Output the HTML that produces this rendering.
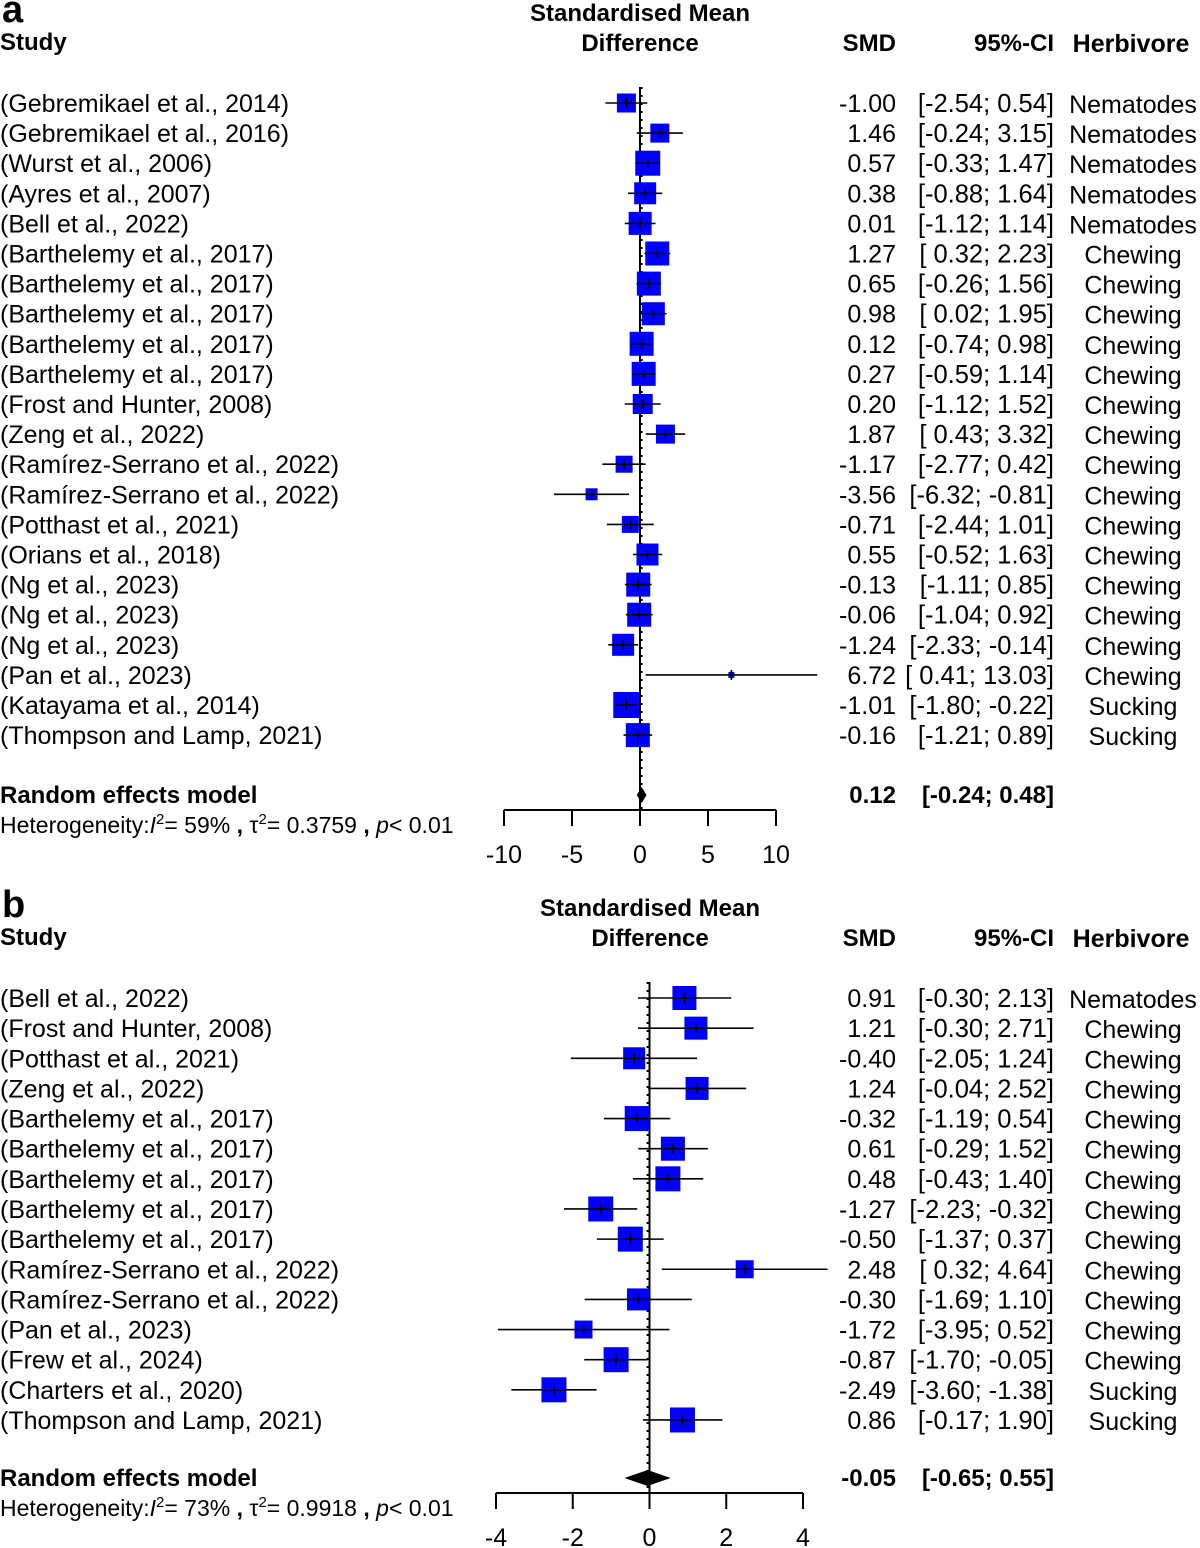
<!DOCTYPE html>
<html><head><meta charset="utf-8">
<style>
html,body{margin:0;padding:0;background:#fff;}
svg{display:block;font-family:"Liberation Sans",Arial,sans-serif;}
</style></head>
<body>
<svg id="chart" width="1200" height="1548" viewBox="0 0 1200 1548" xmlns="http://www.w3.org/2000/svg"></svg>
<script>
// ---- Panel a data ----
const aStudies = ["(Gebremikael et al., 2014)","(Gebremikael et al., 2016)","(Wurst et al., 2006)","(Ayres et al., 2007)","(Bell et al., 2022)","(Barthelemy et al., 2017)","(Barthelemy et al., 2017)","(Barthelemy et al., 2017)","(Barthelemy et al., 2017)","(Barthelemy et al., 2017)","(Frost and Hunter, 2008)","(Zeng et al., 2022)","(Ramírez-Serrano et al., 2022)","(Ramírez-Serrano et al., 2022)","(Potthast et al., 2021)","(Orians et al., 2018)","(Ng et al., 2023)","(Ng et al., 2023)","(Ng et al., 2023)","(Pan et al., 2023)","(Katayama et al., 2014)","(Thompson and Lamp, 2021)"];
const aSMD = [-1.00,1.46,0.57,0.38,0.01,1.27,0.65,0.98,0.12,0.27,0.20,1.87,-1.17,-3.56,-0.71,0.55,-0.13,-0.06,-1.24,6.72,-1.01,-0.16];
const aLo = [-2.54,-0.24,-0.33,-0.88,-1.12,0.32,-0.26,0.02,-0.74,-0.59,-1.12,0.43,-2.77,-6.32,-2.44,-0.52,-1.11,-1.04,-2.33,0.41,-1.80,-1.21];
const aHi = [0.54,3.15,1.47,1.64,1.14,2.23,1.56,1.95,0.98,1.14,1.52,3.32,0.42,-0.81,1.01,1.63,0.85,0.92,-0.14,13.03,-0.22,0.89];
const aWeight = [19,19,25,22,23,24,24,23,24,24,20,19,17,12,17,22,24,24,22,6,26,24];
const aHerb = ["Nematodes","Nematodes","Nematodes","Nematodes","Nematodes","Chewing","Chewing","Chewing","Chewing","Chewing","Chewing","Chewing","Chewing","Chewing","Chewing","Chewing","Chewing","Chewing","Chewing","Chewing","Sucking","Sucking"];
const aPooled = [0.12,-0.24,0.48];
const aTicks = [-10,-5,0,5,10];
// ---- Panel b data ----
const bStudies = ["(Bell et al., 2022)","(Frost and Hunter, 2008)","(Potthast et al., 2021)","(Zeng et al., 2022)","(Barthelemy et al., 2017)","(Barthelemy et al., 2017)","(Barthelemy et al., 2017)","(Barthelemy et al., 2017)","(Barthelemy et al., 2017)","(Ramírez-Serrano et al., 2022)","(Ramírez-Serrano et al., 2022)","(Pan et al., 2023)","(Frew et al., 2024)","(Charters et al., 2020)","(Thompson and Lamp, 2021)"];
const bSMD = [0.91,1.21,-0.40,1.24,-0.32,0.61,0.48,-1.27,-0.50,2.48,-0.30,-1.72,-0.87,-2.49,0.86];
const bLo = [-0.30,-0.30,-2.05,-0.04,-1.19,-0.29,-0.43,-2.23,-1.37,0.32,-1.69,-3.95,-1.70,-3.60,-0.17];
const bHi = [2.13,2.71,1.24,2.52,0.54,1.52,1.40,-0.32,0.37,4.64,1.10,0.52,-0.05,-1.38,1.90];
const bWeight = [24,23,22,23,25,24,25,25,25,18,22,18,25,25,25];
const bHerb = ["Nematodes","Chewing","Chewing","Chewing","Chewing","Chewing","Chewing","Chewing","Chewing","Chewing","Chewing","Chewing","Chewing","Sucking","Sucking"];
const bPooled = [-0.05,-0.65,0.55];
const bTicks = [-4,-2,0,2,4];

const NS="http://www.w3.org/2000/svg";
const svg=document.getElementById('chart');
function mk(tag,attrs,parent){const e=document.createElementNS(NS,tag);for(const k in attrs)e.setAttribute(k,attrs[k]);(parent||svg).appendChild(e);return e;}
function txt(s,x,y,opts,parent){const t=mk('text',Object.assign({x:x,y:y,'font-size':25,fill:'#000'},opts||{}),parent);t.textContent=s;return t;}
function f2(v){return v.toFixed(2);}
function ci(lo,hi){const l=(lo>=0?' ':'')+f2(lo);return '['+l+'; '+f2(hi)+']';}

function panel(cfg){
  const g=mk('g',{});
  
  
  const X=v=>cfg.x0+(v-cfg.dmin)/(cfg.dmax-cfg.dmin)*(cfg.x1-cfg.x0);
  const Y=i=>cfg.y0+i*cfg.dy;
  let t;
  t=txt(cfg.letter,2,cfg.top+20,{'font-size':38,'font-weight':'bold'},g);
  
  t=txt('Study',0,cfg.top+48,{'font-weight':'bold','font-size':24},g);
  
  t=txt('Standardised Mean',cfg.hx,cfg.top+19,{'font-weight':'bold','text-anchor':'middle','font-size':24},g);
  
  t=txt('Difference',cfg.hx,cfg.top+49,{'font-weight':'bold','text-anchor':'middle','font-size':24},g);
  
  t=txt('SMD',896,cfg.top+49,{'font-weight':'bold','text-anchor':'end','font-size':24},g);
  
  t=txt('95%-CI',1054,cfg.top+49,{'font-weight':'bold','text-anchor':'end','font-size':24},g);
  
  t=txt('Herbivore',1131,cfg.top+50,{'font-weight':'bold','text-anchor':'middle','font-size':25},g);
  
  const zl=mk('line',{x1:X(0),x2:X(0),y1:cfg.y0-16,y2:cfg.axisY,stroke:'#000','stroke-width':2},g);
  
  const pl=mk('line',{x1:X(cfg.pooled[0]),x2:X(cfg.pooled[0]),y1:cfg.y0-16,y2:cfg.axisY,stroke:'#000','stroke-width':2,'stroke-dasharray':'2,6'},g);
  
  for(let i=0;i<cfg.studies.length;i++){
    const y=Y(i);
    t=txt(cfg.studies[i],0,y+9,{},g);
    
    t=txt(f2(cfg.smd[i]),896,y+9,{'text-anchor':'end'},g);
    
    t=txt(ci(cfg.lo[i],cfg.hi[i]),1054,y+9,{'text-anchor':'end','font-size':25.5},g);
    
    t=txt(cfg.herb[i],1133,y+10,{'text-anchor':'middle'},g);
    
    const s=cfg.w[i];
    const r=mk('rect',{x:X(cfg.smd[i])-s/2,y:y-s/2,width:s,height:s,fill:'#0000ff'},g);
    
    const l=mk('line',{x1:X(cfg.lo[i]),x2:X(cfg.hi[i]),y1:y,y2:y,stroke:'#000','stroke-width':1.6},g);
    
    const c=mk('line',{x1:X(cfg.smd[i]),x2:X(cfg.smd[i]),y1:y-5,y2:y+5,stroke:'#000','stroke-width':1.6},g);
    
  }
  const py=cfg.pooledY;
  t=txt('Random effects model',0,py+8,{'font-weight':'bold','font-size':24},g);
  
  t=txt(f2(cfg.pooled[0]),896,py+8,{'font-weight':'bold','text-anchor':'end','font-size':24},g);
  
  t=txt(ci(cfg.pooled[1],cfg.pooled[2]),1054,py+8,{'font-weight':'bold','text-anchor':'end','font-size':24},g);
  
  const d=mk('polygon',{points:[X(cfg.pooled[1])+','+py,X(cfg.pooled[0])+','+(py-8),X(cfg.pooled[2])+','+py,X(cfg.pooled[0])+','+(py+8)].join(' '),fill:'#000'},g);
  
  const h=mk('text',{x:0,y:py+38,'font-size':23,fill:'#000'},g);
  
  h.innerHTML='Heterogeneity:<tspan font-style="italic">I</tspan><tspan font-size="15" dy="-9">2</tspan><tspan dy="9">= '+cfg.i2+'</tspan><tspan font-weight="bold"> , </tspan>τ<tspan font-size="15" dy="-9">2</tspan><tspan dy="9">= '+cfg.tau+'</tspan><tspan font-weight="bold"> , </tspan><tspan font-style="italic">p</tspan>&lt; 0.01';
  const ax=mk('line',{x1:X(cfg.ticks[0]),x2:X(cfg.ticks[cfg.ticks.length-1]),y1:cfg.axisY,y2:cfg.axisY,stroke:'#000','stroke-width':2},g);
  
  cfg.ticks.forEach(v=>{
    const tk=mk('line',{x1:X(v),x2:X(v),y1:cfg.axisY,y2:cfg.axisY+16,stroke:'#000','stroke-width':2},g);
    
    const tl=txt(String(v),X(v),cfg.axisY+53,{'text-anchor':'middle'},g);
    
  });
}
panel({name:'panel-a',letter:'a',top:2,hx:640,studies:aStudies,smd:aSMD,lo:aLo,hi:aHi,w:aWeight,herb:aHerb,pooled:aPooled,ticks:aTicks,dmin:-10,dmax:10,x0:504,x1:776,y0:103,dy:30.1,pooledY:795,axisY:810,i2:'59%',tau:'0.3759'});
panel({name:'panel-b',letter:'b',top:897,hx:650,studies:bStudies,smd:bSMD,lo:bLo,hi:bHi,w:bWeight,herb:bHerb,pooled:bPooled,ticks:bTicks,dmin:-4,dmax:4,x0:496,x1:803,y0:998,dy:30.14,pooledY:1478,axisY:1493,i2:'73%',tau:'0.9918'});
</script>
</body></html>
